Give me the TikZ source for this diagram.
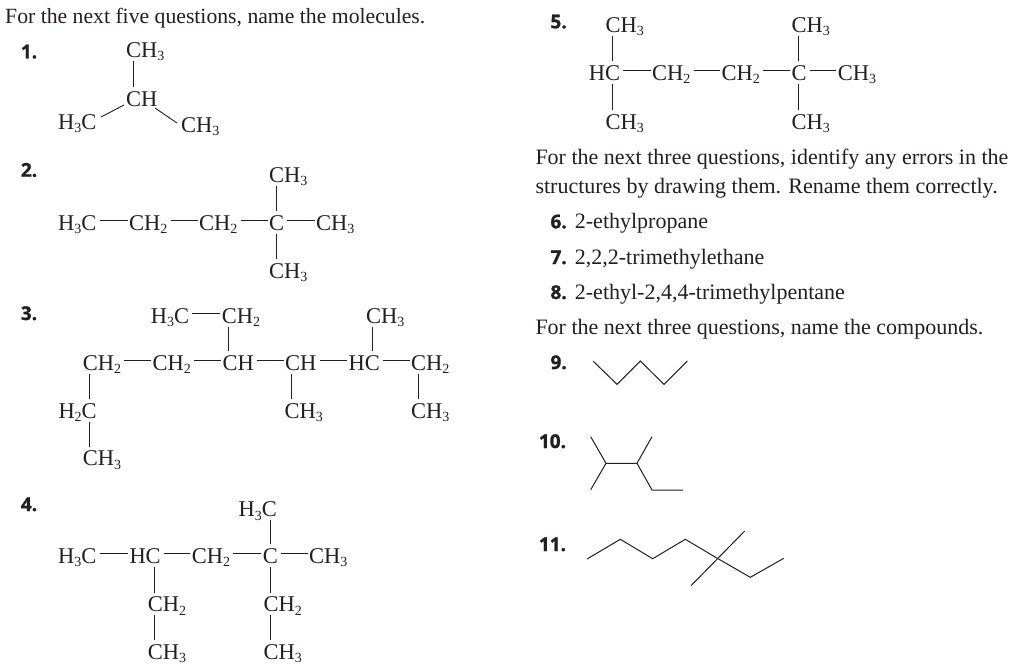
\documentclass[tikz,border=0pt]{standalone}
\usepackage{fontspec}
\setmainfont{Liberation Serif}
\newfontfamily\numfont{Open Sans}[BoldFeatures={FakeBold=1.2}]
\definecolor{ink}{HTML}{231F20}
\newcommand\csub[1]{\raisebox{-3.5pt}{\fontsize{14}{14}\selectfont #1}}
\newcommand\CHt{CH\csub{3}}
\newcommand\CHd{CH\csub{2}}
\newcommand\HtC{H\csub{3}C}
\newcommand\HdC{H\csub{2}C}
\newcommand\lab[4]{\node[atom] (#1) at (#2,#3) {#4};}
\newcommand\bh[2]{\draw[bond,shorten <=3pt,shorten >=1.5pt] ([yshift=2pt]#1.east) -- ([yshift=2pt]#2.west);}
\newcommand\bv[4]{\draw[bond] ([xshift=#2pt]#1.south west) -- ([xshift=#4pt]#3.north west);}
\newcommand\para[4]{\node[para] (#1) at (#2,#3) {#4};}
\newcommand\num[4]{\node[numb] (#1) at (#2,#3) {#4.};}
\tikzset{
  atom/.style={anchor=base west,inner sep=0pt,text height=19pt,text depth=3.5pt,text=ink,font=\fontsize{22.5}{24}\selectfont},
  para/.style={anchor=base west,inner sep=0pt,text=ink,font=\fontsize{22}{24}\selectfont},
  numb/.style={anchor=base west,inner sep=0pt,text=ink,font=\numfont\bfseries\fontsize{19}{22}\selectfont},
  bond/.style={draw=ink,line width=0.9pt},
  skel/.style={draw=ink,line width=1pt,line join=miter}
}
\begin{document}
\begin{tikzpicture}[x=1pt,y=-1pt]
\useasboundingbox (0,0) rectangle (1024,670);
% headings
\node[para,font=\fontsize{21.7}{24}\selectfont] (h1) at (5,23.3) {For the next five questions, name the molecules.};
\para{h2}{535.3}{164.3}{For the next three questions, identify any errors in the}
\para{h3}{535.3}{193.3}{structures by drawing them. Rename them correctly.}
\para{h4}{535.3}{334.3}{For the next three questions, name the compounds.}
\para{t6}{574.7}{228.3}{2-ethylpropane}
\para{t7}{574.7}{264}{2,2,2-trimethylethane}
\para{t8}{574.7}{299}{2-ethyl-2,4,4-trimethylpentane}
% numbers
\num{n1}{20.7}{58.3}{1}
\num{n2}{20.7}{176.7}{2}
\num{n3}{20.7}{320}{3}
\num{n4}{20.7}{511}{4}
\num{n5}{550.3}{28.3}{5}
\num{n6}{550.3}{228.3}{6}
\num{n7}{550.3}{264}{7}
\num{n8}{550.3}{299}{8}
\num{n9}{550.3}{369}{9}
\num{n10}{538.7}{448}{10}
\num{n11}{538.7}{551}{11}
% molecule 1
\lab{a1}{126}{57}{\CHt}
\lab{a2}{126}{106}{CH}
\lab{a3}{58}{129}{\HtC}
\lab{a4}{181}{132}{\CHt}
\bv{a1}{7.5}{a2}{7.5}
\coordinate (a3r) at (101,117);
\coordinate (a2l) at (124,105);
\coordinate (a2r) at (155,108);
\coordinate (a4l) at (177,123);
\draw[bond] (a3r) -- (a2l);
\draw[bond] (a2r) -- (a4l);
% molecule 2
\lab{b1}{269}{182}{\CHt}
\lab{b2}{58}{230}{\HtC}
\lab{b3}{129}{230}{\CHd}
\lab{b4}{199}{230}{\CHd}
\lab{b5}{269}{230}{C}
\lab{b6}{316}{230}{\CHt}
\lab{b7}{269}{278}{\CHt}
\bh{b2}{b3}\bh{b3}{b4}\bh{b4}{b5}\bh{b5}{b6}
\bv{b1}{7.5}{b5}{7.5}
\bv{b5}{7.5}{b7}{7.5}
% molecule 3
\lab{c1}{150.7}{323}{\HtC}
\lab{c2}{221.7}{323}{\CHd}
\lab{c3}{366}{323}{\CHt}
\lab{c4}{82.7}{370}{\CHd}
\lab{c5}{152.3}{370}{\CHd}
\lab{c6}{222.3}{370}{CH}
\lab{c7}{285}{370}{CH}
\lab{c8}{348.3}{370}{HC}
\lab{c9}{411}{370}{\CHd}
\lab{c10}{58.3}{418}{\HdC}
\lab{c11}{284.3}{418}{\CHt}
\lab{c12}{411}{418}{\CHt}
\lab{c13}{82.7}{465.7}{\CHt}
\bh{c1}{c2}
\bh{c4}{c5}\bh{c5}{c6}\bh{c6}{c7}\bh{c7}{c8}\bh{c8}{c9}
\bv{c2}{7}{c6}{6.4}
\bv{c3}{6.3}{c8}{24}
\bv{c4}{6.6}{c10}{31}
\bv{c10}{31}{c13}{6.6}
\bv{c7}{6.7}{c11}{7.4}
\bv{c9}{7}{c12}{7}
% molecule 4
\lab{d1}{238.3}{516.7}{\HtC}
\lab{d2}{58}{563.3}{\HtC}
\lab{d3}{129.3}{563.3}{HC}
\lab{d4}{191.7}{563.3}{\CHd}
\lab{d5}{262.7}{563.3}{C}
\lab{d6}{309}{563.3}{\CHt}
\lab{d7}{147.7}{611.7}{\CHd}
\lab{d8}{263.3}{611.7}{\CHd}
\lab{d9}{147.7}{659.3}{\CHt}
\lab{d10}{263.3}{659.3}{\CHt}
\bh{d2}{d3}\bh{d3}{d4}\bh{d4}{d5}\bh{d5}{d6}
\bv{d1}{31.7}{d5}{7.3}
\bv{d3}{24.7}{d7}{6.3}
\bv{d7}{6.3}{d9}{6.3}
\bv{d5}{7.3}{d8}{6.7}
\bv{d8}{6.7}{d10}{6.7}
% molecule 5
\lab{e1}{605.3}{32.3}{\CHt}
\lab{e2}{791.3}{32.3}{\CHt}
\lab{e3}{588.7}{80}{HC}
\lab{e4}{652}{80}{\CHd}
\lab{e5}{721.3}{80}{\CHd}
\lab{e6}{791.3}{80}{C}
\lab{e7}{837.7}{80}{\CHt}
\lab{e8}{605.3}{129}{\CHt}
\lab{e9}{791.3}{129}{\CHt}
\bh{e3}{e4}\bh{e4}{e5}\bh{e5}{e6}\bh{e6}{e7}
\bv{e1}{7.4}{e3}{24}
\bv{e3}{24}{e8}{7.4}
\bv{e2}{7.4}{e6}{7.4}
\bv{e6}{7.4}{e9}{7.4}
% skeletal 9
\coordinate (f1) at (593,361);
\coordinate (f2) at (617,384.3);
\coordinate (f3) at (640.3,361);
\coordinate (f4) at (664,384.3);
\coordinate (f5) at (687.3,361);
\draw[skel] (f1) -- (f2) -- (f3) -- (f4) -- (f5);
% skeletal 10
\coordinate (g1) at (590.7,436.7);
\coordinate (g2) at (606,463.3);
\coordinate (g3) at (637,463.3);
\coordinate (g4) at (652,436.7);
\coordinate (g5) at (590.7,489.7);
\coordinate (g6) at (652,490);
\coordinate (g7) at (683,490);
\draw[skel] (g1) -- (g2) -- (g5);
\draw[skel] (g2) -- (g3) -- (g4);
\draw[skel] (g3) -- (g6) -- (g7);
% skeletal 11
\coordinate (k1) at (587,559);
\coordinate (k2) at (620.3,539.3);
\coordinate (k3) at (652.7,558.7);
\coordinate (k4) at (685.3,539.3);
\coordinate (k5) at (718,558.7);
\coordinate (k6) at (750.3,577.3);
\coordinate (k7) at (783.7,558.3);
\coordinate (k8) at (744.7,531);
\coordinate (k9) at (691,585.7);
\draw[skel] (k1) -- (k2) -- (k3) -- (k4) -- (k5) -- (k6) -- (k7);
\draw[skel] (k8) -- (k9);
\end{tikzpicture}
\end{document}
